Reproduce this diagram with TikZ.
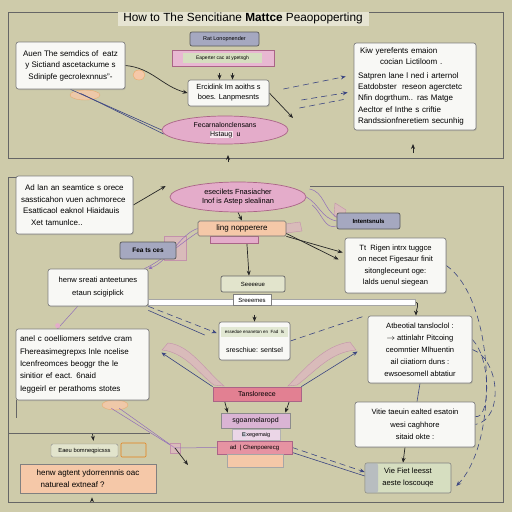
\documentclass[tikz,border=0pt]{standalone}
\usepackage{fontspec}
\setmainfont{Liberation Sans}
\usetikzlibrary{arrows.meta,shadows,calc,shapes.geometric}
\definecolor{bg}{RGB}{206,203,170}
\definecolor{titlebg}{RGB}{230,228,210}
\definecolor{wfill}{RGB}{248,248,245}
\definecolor{slate}{RGB}{165,168,192}
\definecolor{pinkE}{RGB}{228,172,202}
\definecolor{pinkedge}{RGB}{170,100,135}
\definecolor{pinkB}{RGB}{226,128,146}
\definecolor{peach}{RGB}{245,200,168}
\definecolor{lilac}{RGB}{218,180,212}
\definecolor{greenL}{RGB}{214,222,192}
\definecolor{paleg}{RGB}{226,228,204}
\definecolor{lineblue}{RGB}{60,70,130}
\definecolor{linepurple}{RGB}{145,110,185}
\setlength{\fboxsep}{0.5pt}
\pgfdeclarelayer{back}
\pgfdeclarelayer{mid}
\pgfsetlayers{back,mid,main}
\begin{document}
\begin{tikzpicture}[x=1pt,y=-1pt,
  wbox/.style={draw=black!50, fill=wfill, rounded corners=2.5pt, line width=0.7pt, align=center, inner sep=1pt,
    font=\fontsize{8}{11.5}\selectfont, drop shadow={shadow xshift=0.8pt, shadow yshift=-1pt, opacity=0.3}},
  sbox/.style={draw=black!65, fill=slate, rounded corners=2pt, line width=0.7pt, inner sep=1pt,
    font=\fontsize{6}{7}\selectfont\bfseries},
  conn/.style={draw=black!85, line width=0.7pt, -{Stealth[length=5pt,width=4pt]}},
  purp/.style={draw=linepurple, line width=0.5pt},
  thinb/.style={draw=lineblue, line width=0.6pt},
  dashb/.style={draw=lineblue, line width=0.6pt, dash pattern=on 6pt off 4pt},
  frame/.style={draw=black!60, line width=0.8pt},
  rib/.style={fill=pinkE, fill opacity=0.5, draw=pinkedge!70, line width=0.4pt},
  blob/.style={fill=peach, draw=orange!50!brown!70, line width=0.4pt},
]
\useasboundingbox (0,0) rectangle (512,512);
\begin{pgfonlayer}{back}
\fill[bg] (0,0) rectangle (512,512);
% ---------- frames ----------
\draw[frame] (118,12) -- (8,12) -- (8,158) -- (503,158) -- (503,12) -- (368,12);
\draw[frame] (16,177) -- (8,177) -- (8,502) -- (503,502) -- (503,186) -- (310,186);
\draw[frame] (8,433) -- (150,433);
\draw[frame] (16,400) -- (16,418);
\end{pgfonlayer}

% ---------- title ----------
\node[fill=titlebg, minimum width=251pt, minimum height=14pt, inner sep=0pt,
  font=\fontsize{11.8}{12}\selectfont] (TT) at (243,18.5) {How to The Sencitiane \textbf{Mattce} Peaopoperting};

% ---------- top section ----------
\node[wbox, minimum width=109pt, minimum height=47pt] (A) at (70.5,65.5)
  {Auen The semdics of\ \ eatz\\ y Sictiand ascetackume s\\ Sdinipfe gecrolexnnus"-};
\node[sbox, minimum width=69pt, minimum height=14pt, font=\fontsize{5.5}{6}\selectfont] (RAT) at (224.5,39) {Rat Lonopnender};
\node[draw=pinkedge, fill=pinkE!85, line width=0.7pt, minimum width=102pt, minimum height=16pt] (P1) at (223,58) {};
\node[fill=greenL, minimum width=79pt, minimum height=10pt, inner sep=0pt,
  font=\fontsize{5}{6}\selectfont] (P1L) at (222.5,58) {Eaperter cac at ypetsgh};
\node[wbox, minimum width=81pt, minimum height=26pt, font=\fontsize{7.4}{10}\selectfont] (C) at (228.5,93)
  {Ercidink Im aoiths s\\ boes. Lanpmesnts};
\node[ellipse, draw=pinkedge, fill=pinkE, line width=0.7pt, minimum width=126pt, minimum height=28pt,
  inner sep=0pt, align=center, font=\fontsize{7}{9}\selectfont] (E1) at (225,130)
  {Fecarnalonclensans\\ \colorbox{white!70!pinkE}{Hstaug}\ \ u};
\node[wbox, align=left, text width=114pt, inner sep=4pt, minimum height=87pt,
  font=\fontsize{8}{11.4}\selectfont] (R) at (415,86.5)
  {\hspace*{2pt}Kiw yerefents emaion\\ \hspace*{22pt}cocian Lictiloom .\\[2pt]
   Satpren lane l ned i arternol\\ Eatdobster\ \ reseon agerctetc\\ Nfin dogrthum.. ras Matge\\
   Aecltor ef Inthe s criftie\\ Randssionfneretiem secunhig};

% ---------- middle section ----------
\node[wbox, align=left, text width=107pt, inner sep=5pt, minimum height=58pt] (B) at (74.5,205)
  {\hspace*{4pt}Ad lan an seamtice s orece\\ sassticahon vuen achmorece\\ \hspace*{2pt}Esatticaol eaknol Hiaidauis\\ \hspace*{10pt}Xet tamunlce..};
\node[ellipse, draw=pinkedge, fill=pinkE, line width=0.7pt, minimum width=136pt, minimum height=30pt,
  inner sep=0pt, align=center, font=\fontsize{7.4}{9.5}\selectfont] (E2) at (238,197)
  {esecilets Fnasiacher\\ Inof is Astep slealinan};
\node[draw=pinkedge, fill=pinkE, line width=0.5pt, minimum width=48pt, minimum height=7pt, inner sep=0pt] (LP) at (234,239.5) {};
\node[draw=black!55, fill=peach, rounded corners=1.5pt, line width=0.7pt, minimum width=88pt, minimum height=15pt,
  font=\fontsize{8}{9}\selectfont] (L) at (242,228.5) {ling nopperere};
\node[sbox, minimum width=63pt, minimum height=16pt] (I) at (368.5,221) {Intentsnuls};
\node[sbox, minimum width=56pt, minimum height=17pt, font=\fontsize{6.5}{7}\selectfont\bfseries] (F) at (148,250.5) {Fea ts ces};
\node[wbox, minimum width=101pt, minimum height=55pt, font=\fontsize{7.6}{11.5}\selectfont] (T) at (395.5,265.5)
  {Tt\ \ Rigen intrx tuggce\\ on necet Figesaur finit\\ sitongleceunt oge:\\ lalds uenul siegean};
\node[wbox, minimum width=100pt, minimum height=37pt, font=\fontsize{7.6}{13}\selectfont] (H) at (98,287.5)
  {henw sreati anteetunes\\ etaun scigiplick};
\node[draw=black!60, fill=paleg, rounded corners=2pt, line width=0.7pt, minimum width=64pt, minimum height=16pt,
  font=\fontsize{6}{7}\selectfont] (S1) at (253,284) {Seeeeue};
\node[draw=black!35, fill=white, minimum width=267pt, minimum height=6pt, inner sep=0pt] (BAR) at (281.5,302) {};
\node[draw=black!50, fill=white, minimum width=38pt, minimum height=11pt, inner sep=0pt,
  font=\fontsize{6}{7}\selectfont] (S2) at (252,300) {Sreeemes};

% ---------- lower section ----------
\node[wbox, minimum width=71pt, minimum height=38pt] (Q) at (254.5,341) {};
\node[fill=greenL!70!white, minimum width=67pt, minimum height=10pt, inner sep=0pt,
  font=\fontsize{4.5}{5}\selectfont] (QT) at (254.5,332) {essedoe enaneton en\ \ Fad\ \ ls};
\node[font=\fontsize{7}{8}\selectfont, inner sep=0pt] (QB) at (254.5,350) {sreschiue: sentsel};
\node[wbox, align=left, text width=125pt, inner sep=4pt, minimum height=71pt,
  font=\fontsize{8}{12.4}\selectfont] (LB) at (82.5,364.5)
  {anel c ooelliomers setdve cram\\ Fhereasimegrepxs lnle ncelise\\ Icenfreomces beoggr the le\\
   sinitior ef eact. 6naid\\ Ieggeirl er perathoms stotes};
\node[wbox, minimum width=104pt, minimum height=67pt, font=\fontsize{7.6}{12}\selectfont] (AT) at (420,349.5)
  {Atbeotial tansloclol :\\ $\rightarrow$ attinlahr Pitcoing\\ ceomntier Mlhuentin\\ ail ciiatiorn duns :\\ ewsoesomell abtatiur};
\node[draw=pinkedge, fill=pinkB, line width=0.7pt, minimum width=88pt, minimum height=14pt,
  font=\fontsize{7}{8}\selectfont] (TR) at (257,394) {Tansloreece};
\node[draw=black!45, fill=lilac, line width=0.6pt, minimum width=69pt, minimum height=15pt,
  font=\fontsize{7}{8}\selectfont] (SG) at (255.5,420.5) {sgoannelaropd};
\node[draw=black!30, fill=lilac!55!white, minimum width=48pt, minimum height=11pt, inner sep=0pt,
  font=\fontsize{5.5}{6}\selectfont] (EX) at (256,434.5) {\colorbox{slate!60}{E}xegemaig};
\node[draw=pinkedge, fill=pinkB!85!white, line width=0.6pt, minimum width=75pt, minimum height=13pt, inner sep=0pt,
  font=\fontsize{6}{7}\selectfont] (CH) at (254.5,447.5) {ad\ \ \textbar\ Chenpoerecg};
\node[draw=black!35, fill=peach, minimum width=56pt, minimum height=13pt] (OB) at (255,460.5) {};
\node[wbox, minimum width=120pt, minimum height=45pt, font=\fontsize{7.6}{12.5}\selectfont] (V) at (415,424.5)
  {Vitie taeuin ealted esatoin\\ wesi caghhore\\ sitaid okte :};
\node[draw=black!45, fill=paleg, rounded corners=1.5pt, minimum width=67pt, minimum height=13pt, inner sep=0pt,
  font=\fontsize{5.8}{6.5}\selectfont] (EB) at (84.5,450.5) {Eaeu bomneqpicsss};
\node[draw=orange!60!brown, line width=0.6pt, rounded corners=1pt, minimum width=25pt, minimum height=14pt] (EBo) at (133.5,450) {};
\node[draw=black!50, fill=peach, line width=0.6pt, minimum width=136pt, minimum height=29pt, align=left,
  font=\fontsize{8}{12}\selectfont] (O) at (88,478.5) {henw agtent ydorrennnis oac\\ \hspace*{4pt}natureal extneaf ?};
\node[draw=black!50, fill=greenL, rounded corners=2pt, line width=0.6pt, minimum width=86pt, minimum height=30pt,
  align=center, font=\fontsize{7.6}{12}\selectfont] (G) at (408,478) {Vie Fiet leesst\\ aeste loscouqe};
\fill[slate, opacity=0.6, rounded corners=2pt] (365.3,463.3) rectangle (378,492.7);

% ---------- connectors (behind the boxes) ----------
\begin{pgfonlayer}{mid}
% top
\fill[blob, opacity=0.8] (85,95) ellipse (15pt and 5pt);
\fill[blob] (139,75) ellipse (6pt and 5pt);
\draw[conn] (A.east) to[out=-5,in=165] (C.west);
\draw[thinb] (A.south) -- (E1.west);
\draw[thinb] ($(A.south)+(10,4)$) -- ($(E1.west)+(2,4)$);
\coordinate (c1) at (293,118);
\draw[conn] (C.east) -- (c1);
\draw[conn] ($(C.north)+(-9,-7)$) -- ($(C.north)+(-9,0)$);
\draw[conn] ($(C.north)+(4,-7)$) -- ($(C.north)+(4,0)$);
\draw[dashb, -{Stealth[length=5pt,width=4pt]}] ($(C.east)+(14,-4)$) -- ($(R.west)+(-8,-10)$);
\draw[dashb, -{Stealth[length=5pt,width=4pt]}] ($(C.east)+(32,7)$) -- ($(R.west)+(-6,6)$);
\draw[dashb] ($(C.east)+(30,15)$) -- ($(R.west)+(-10,13)$);
\coordinate (u1) at (228,162);
\draw[conn] (u1) -- ++(0,-7);
\coordinate (u2) at (413,153);
\draw[conn] (u2) -- ++(0,-9);
% middle
\path[rib] (164,236) rectangle (186,260);
\path[rib] (286,224) -- (300,222) -- (302,231) -- (286,233) -- cycle;
\path[rib] (335,203) -- (346,210) -- (344,222) -- (334,216) -- cycle;
\draw[purp] (E2.east) to[out=-30,in=170] (I.west);
\draw[purp] ($(E2.east)+(3,-8)$) to[out=-10,in=150] ($(I.west)+(0,-4)$);
\draw[purp] ($(E2.east)+(6,8)$) to[out=-40,in=200] ($(I.west)+(0,5)$);
\draw[conn] (B.east) -- ($(E2.west)+(-4,-11)$);
\draw[conn] (E2.south) -- (L.north);
\draw[conn] ($(L.south)+(4,-7)$) -- ($(S1.north)+(-4,0)$);
\draw[conn] (L.south east) -- ($(T.west)+(-2,-13)$);
\draw[conn] ($(L.east)+(-2,4)$) -- ($(T.west)+(-6,-6)$);
\draw[purp, -{Stealth[length=4pt,width=3.5pt]}] (L.west) .. controls (180,234) and (168,262) .. (H.north east);
\draw[purp] ($(L.west)+(0,4)$) .. controls (185,240) and (160,262) .. ($(H.north east)+(-4,0)$);
\draw[conn] (BAR.east) to[out=0,in=90] ($(AT.north)+(-4,0)$);
\draw[dashb, -{Stealth[length=5pt,width=4pt]}] (T.east) .. controls (495,300) and (500,440) .. ($(G.east)+(5,8)$);
\draw[dashb] (AT.east) to[out=-20,in=10] (V.east);
\draw[dashb] ($(AT.east)+(0,-10)$) .. controls (492,360) and (490,420) .. ($(V.east)+(0,-8)$);
% lower
\path[rib] (162,350) .. controls (185,352) and (200,375) .. (214,385) -- (224,386)
  .. controls (205,370) and (190,345) .. (168,343) -- cycle;
\path[rib] (356,350) .. controls (330,352) and (315,372) .. (297,385) -- (288,386)
  .. controls (305,368) and (325,345) .. (350,342) -- cycle;
\draw[thinb, -{Stealth[length=5pt,width=4pt]}] (TR.north west) -- ($(LB.east)+(12,-12)$);
\draw[thinb, -{Stealth[length=5pt,width=4pt]}] (TR.north east) -- ($(AT.west)+(-10,2)$);
\draw[purp] ($(LB.north west)+(42,0)$) -- ($(H.south west)+(30,0)$);
\fill[pinkE] ($(LB.north west)+(42,-3)$) circle (2.5pt);
\draw[dashb, -{Stealth[length=5pt,width=4pt]}] (H.south east) -- ($(Q.west)+(-2,-8)$);
\draw[thinb] ($(H.south east)+(0,4)$) -- ($(Q.west)+(-14,-6)$);
\draw[conn] ($(Q.north)+(0,-7)$) -- (Q.north);
\draw[dashb] (Q.east) -- ($(AT.north west)+(-2,0)$);
\draw[conn] ($(TR.south west)+(12,0)$) -- ($(SG.north west)+(7,0)$);
\draw[conn] ($(TR.south east)+(-12,0)$) -- ($(SG.north east)+(-5,0)$);
\draw[thinb] (AT.south) -- ($(V.north)+(2,0)$);
\draw[conn] ($(V.south)+(-10,0)$) -- ($(G.north)+(-5,0)$);
\draw[dashb, -{Stealth[length=5pt,width=4pt]}] (CH.east) -- ($(G.west)+(0,-6)$);
\draw[thinb] ($(CH.east)+(0,5)$) -- ($(G.west)+(0,-2)$);
\fill[blob, opacity=0.85] (115,405) ellipse (13pt and 5pt);
\coordinate (m1) at (175,448);
\draw[purp] ($(LB.south east)+(-38,8)$) -- (m1);
\draw[purp] ($(LB.south east)+(-30,8)$) -- (m1);
\path[rib] (170,443) rectangle (180,453);
\draw[purp] (m1) -- (CH.west);
\draw[conn] (m1) -- ++(13,17);
\draw[conn] ($(EB.north)+(8,-10)$) -- ($(EB.north)+(9,-3)$);
\draw[conn] ($(O.south)+(4,7)$) -- ($(O.south)+(4,4)$);
\end{pgfonlayer}
\end{tikzpicture}
\end{document}
